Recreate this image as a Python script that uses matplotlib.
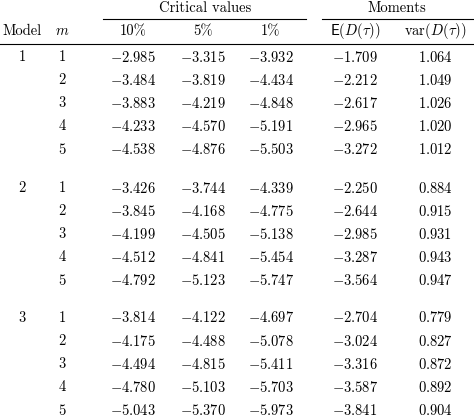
import matplotlib.pyplot as plt
import matplotlib as mpl

mpl.rcParams['mathtext.fontset'] = 'cm'
mpl.rcParams['font.family'] = 'cmr10'
mpl.rcParams['axes.formatter.use_mathtext'] = True

models = ["1", "2", "3"]
ms = [1, 2, 3, 4, 5]
cv10 = [[-2.985, -3.484, -3.883, -4.233, -4.538],
        [-3.426, -3.845, -4.199, -4.512, -4.792],
        [-3.814, -4.175, -4.494, -4.780, -5.043]]
cv5 = [[-3.315, -3.819, -4.219, -4.570, -4.876],
       [-3.744, -4.168, -4.505, -4.841, -5.123],
       [-4.122, -4.488, -4.815, -5.103, -5.370]]
cv1 = [[-3.932, -4.434, -4.848, -5.191, -5.503],
       [-4.339, -4.775, -5.138, -5.454, -5.747],
       [-4.697, -5.078, -5.411, -5.703, -5.973]]
mean_d = [[-1.709, -2.212, -2.617, -2.965, -3.272],
          [-2.250, -2.644, -2.985, -3.287, -3.564],
          [-2.704, -3.024, -3.316, -3.587, -3.841]]
var_d = [[1.064, 1.049, 1.026, 1.020, 1.012],
         [0.884, 0.915, 0.931, 0.943, 0.947],
         [0.779, 0.827, 0.872, 0.892, 0.904]]

W, H = 474, 417
fig = plt.figure(figsize=(W / 100, H / 100), dpi=100)
ax = fig.add_axes([0, 0, 1, 1])
ax.set_xlim(0, W)
ax.set_ylim(H, 0)
ax.axis('off')

fs = 10.5
xs = [22, 62, 133, 203, 271, 355, 435]


def t(x, y, s, **kw):
    ax.text(x, y, s, ha='center', va='center', fontsize=fs, **kw)


def num(v):
    return "$%.3f$" % v if v >= 0 else "$-%.3f$" % abs(v)


t(205, 8, "Critical values")
t(397, 8, "Moments")
ax.plot([103, 306], [19, 19], color='black', lw=0.8)
ax.plot([322, 474], [19, 19], color='black', lw=0.8)

hdr = ["Model", "$m$", "10%", "5%", "1%",
       r"$\mathsf{E}(D(\tau))$", r"$\mathrm{var}(D(\tau))$"]
for x, s in zip(xs, hdr):
    t(x, 31, s)
ax.plot([0, 474], [44, 44], color='black', lw=0.8)

row_h = 23.2
group_y = [57, 188, 318]
for g, model in enumerate(models):
    y0 = group_y[g]
    t(xs[0], y0, model)
    for i, m in enumerate(ms):
        y = y0 + i * row_h
        t(xs[1], y, "%d" % m)
        t(xs[2], y, num(cv10[g][i]))
        t(xs[3], y, num(cv5[g][i]))
        t(xs[4], y, num(cv1[g][i]))
        t(xs[5], y, num(mean_d[g][i]))
        t(xs[6], y, num(var_d[g][i]))

fig.savefig("out.png", dpi=100)
